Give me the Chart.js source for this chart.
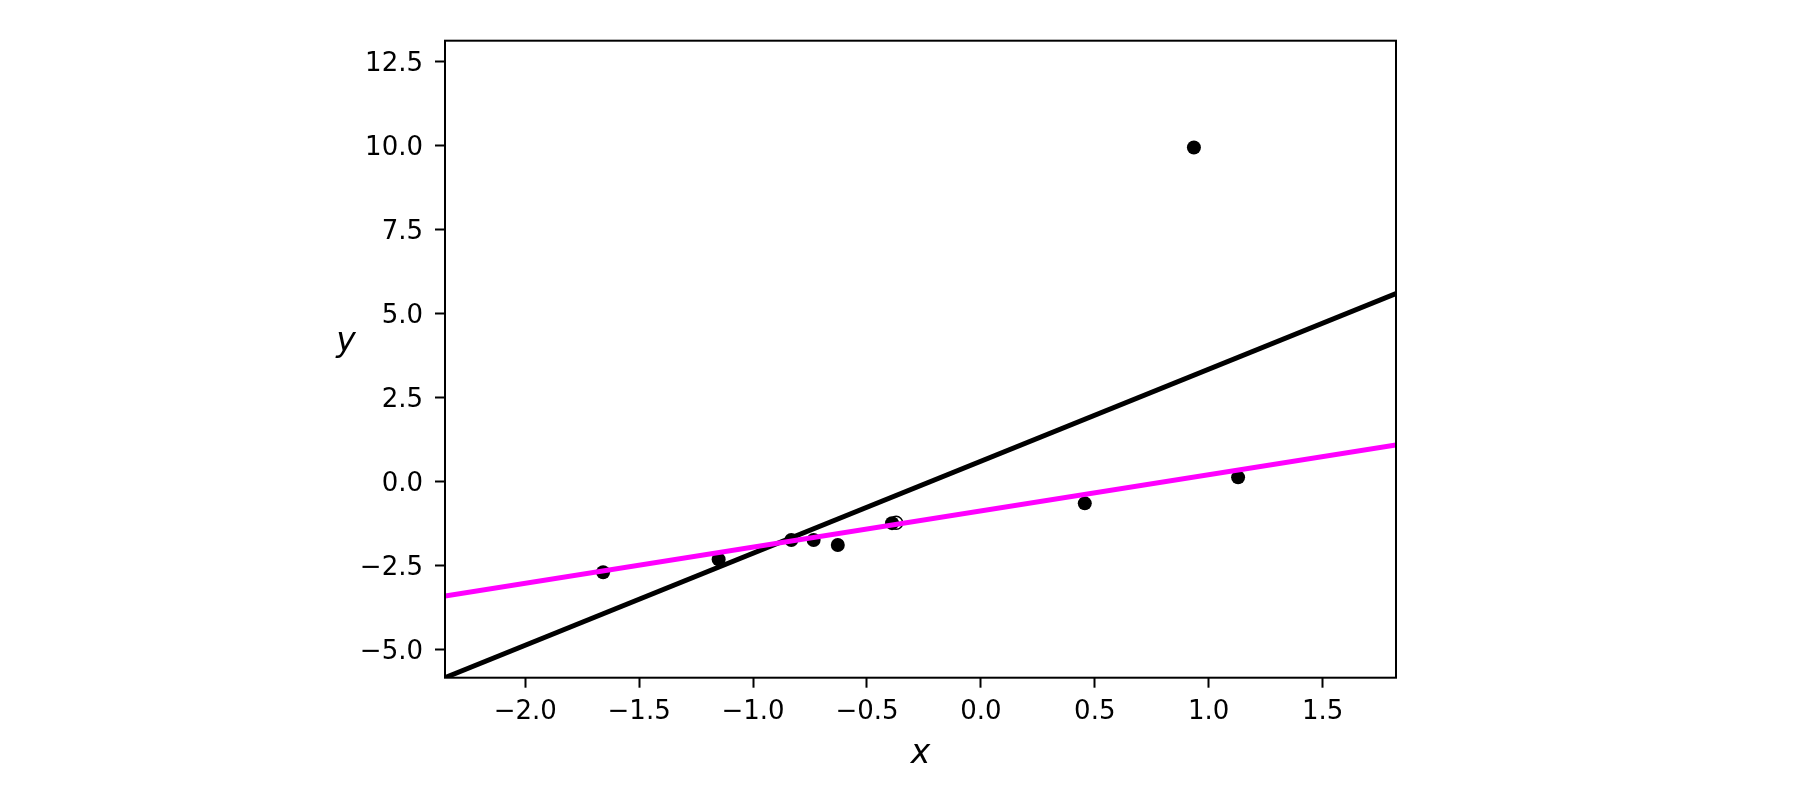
<!DOCTYPE html>
<html>
<head>
<meta charset="utf-8">
<script src="https://cdn.jsdelivr.net/npm/chart.js@4.4.1/dist/chart.umd.min.js"></script>
<style>
  html, body { margin: 0; padding: 0; background: #ffffff; }
  #wrap { width: 1800px; height: 800px; }
</style>
</head>
<body>
<div id="wrap"><canvas id="c" width="1800" height="800"></canvas></div>
<script>
// ---- data ----
const pointX = [-1.658, -1.151, -0.832, -0.734, -0.628, -0.390, 0.456, 0.935, 1.129];
const pointY = [-2.70, -2.32, -1.74, -1.74, -1.89, -1.24, -0.65, 9.95, 0.125];
const openX = [-0.372];
const openY = [-1.23];
const lineX = [-2.352, 1.822];
const blackLineY = [-5.84, 5.60];
const magentaLineY = [-3.41, 1.087];
const xTicks = [-2.0, -1.5, -1.0, -0.5, 0.0, 0.5, 1.0, 1.5];
const yTicks = [-5.0, -2.5, 0.0, 2.5, 5.0, 7.5, 10.0, 12.5];
const xLimits = [-2.352, 1.822];
const yLimits = [-5.843, 13.13];
const xLabel = 'x';
const yLabel = 'y';

const toXY = (xs, ys) => xs.map((x, i) => ({ x: x, y: ys[i] }));
const fmt = v => v.toFixed(1).replace('-', '\u2212');
const FONT = "'DejaVu Sans', sans-serif";

const framePlugin = {
  id: 'frame',
  afterDatasetsDraw(chart) {
    const a = chart.chartArea;
    const ctx = chart.ctx;
    ctx.save();
    ctx.strokeStyle = '#000';
    ctx.lineWidth = 2;
    ctx.strokeRect(a.left, a.top, a.right - a.left, a.bottom - a.top);
    ctx.restore();
  },
  afterDraw(chart) {
    const a = chart.chartArea;
    const ctx = chart.ctx;
    ctx.save();
    ctx.fillStyle = '#000';
    ctx.font = "italic 33px " + FONT;
    ctx.textAlign = 'center';
    ctx.textBaseline = 'alphabetic';
    ctx.fillText(xLabel, (a.left + a.right) / 2, 762.7);
    ctx.fillText(yLabel, 346, 350.5);
    ctx.restore();
  }
};

new Chart(document.getElementById('c'), {
  data: {
    datasets: [
      {
        type: 'line',
        label: 'magenta fit',
        data: toXY(lineX, magentaLineY),
        borderColor: '#ff00ff',
        borderWidth: 5,
        pointRadius: 0,
        fill: false,
        order: 0
      },
      {
        type: 'line',
        label: 'black fit',
        data: toXY(lineX, blackLineY),
        borderColor: '#000000',
        borderWidth: 5,
        pointRadius: 0,
        fill: false,
        order: 1
      },
      {
        type: 'scatter',
        label: 'points',
        data: toXY(pointX, pointY),
        backgroundColor: '#000000',
        borderColor: '#000000',
        borderWidth: 0,
        pointRadius: 7,
        order: 2
      },
      {
        type: 'scatter',
        label: 'open',
        data: toXY(openX, openY),
        backgroundColor: 'rgba(255,255,255,0)',
        borderColor: '#000000',
        borderWidth: 1.5,
        pointRadius: 6.5,
        order: 3
      }
    ]
  },
  options: {
    responsive: false,
    animation: false,
    devicePixelRatio: 1,
    layout: { padding: { left: 0, right: 404, top: 40.7, bottom: 0 } },
    plugins: { legend: { display: false }, tooltip: { enabled: false } },
    scales: {
      x: {
        type: 'linear',
        min: xLimits[0],
        max: xLimits[1],
        afterBuildTicks: s => { s.ticks = xTicks.map(v => ({ value: v })); },
        afterFit: s => { s.height = 800 - 677.7; },
        grid: { display: true, drawOnChartArea: false, drawTicks: true, tickLength: 10, tickWidth: 2, tickColor: '#000' },
        border: { display: false },
        ticks: {
          autoSkip: false,
          maxRotation: 0,
          padding: 9,
          color: '#000',
          font: { family: FONT, size: 26 },
          callback: v => fmt(v)
        }
      },
      y: {
        type: 'linear',
        min: yLimits[0],
        max: yLimits[1],
        afterBuildTicks: s => { s.ticks = yTicks.map(v => ({ value: v })); },
        afterFit: s => { s.width = 445; },
        grid: { display: true, drawOnChartArea: false, drawTicks: true, tickLength: 10, tickWidth: 2, tickColor: '#000' },
        border: { display: false },
        ticks: {
          autoSkip: false,
          padding: 12,
          labelOffset: 2.5,
          color: '#000',
          font: { family: FONT, size: 26 },
          callback: v => fmt(v)
        }
      }
    }
  },
  plugins: [framePlugin]
});
</script>
</body>
</html>
